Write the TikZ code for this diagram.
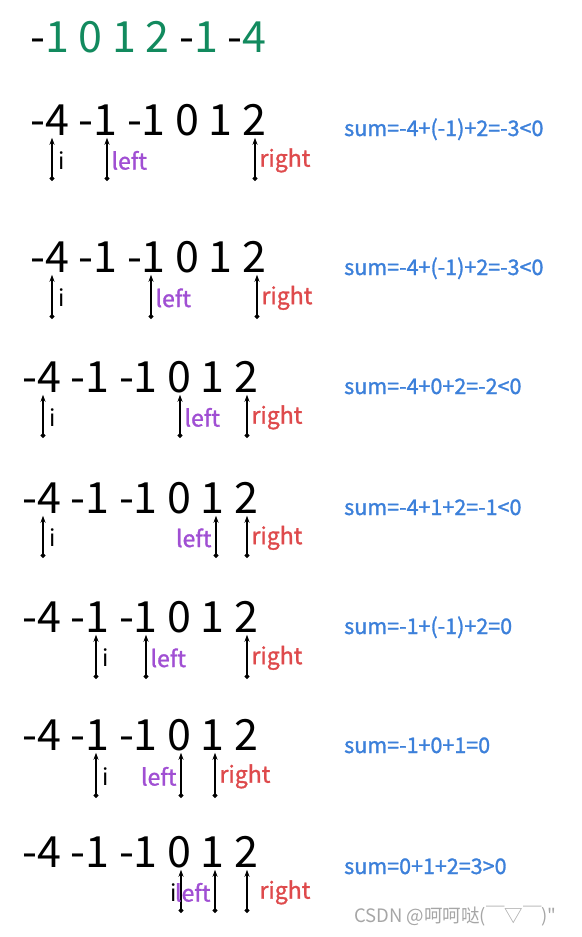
\documentclass[tikz,border=0pt]{standalone}
\usepackage{fontspec}
\setmainfont{Noto Sans CJK SC}
\newfontfamily\medfont[FakeBold=1.3]{Noto Sans CJK SC}
\newfontfamily\markfont[Ligatures=TeXOff]{Noto Sans CJK SC}
\usetikzlibrary{arrows.meta, positioning}
\definecolor{numgreen}{HTML}{128A5E}
\definecolor{leftclr}{HTML}{A04FD3}
\definecolor{rightclr}{HTML}{DE4A4C}
\definecolor{sumclr}{HTML}{3C80DA}
\definecolor{markgray}{HTML}{A6A6A6}
\newcommand{\gd}[1]{{\color{numgreen}#1}}
\tikzset{
  nums/.style={anchor=base west, inner sep=0pt, font=\fontsize{43}{50}\selectfont},
  ptr/.style={{Circle[length=5pt]}-{Stealth[length=7pt, width=5pt]}, line width=1.1pt, shorten >=2pt},
  tag/.style={inner sep=4pt, yshift=-2pt, font=\fontsize{23}{28}\selectfont},
  itag/.style={tag, text=black, inner xsep=6pt},
  ltag/.style={tag, text=leftclr, font=\medfont\fontsize{23}{28}\selectfont},
  rtag/.style={tag, text=rightclr, font=\medfont\fontsize{23}{28}\selectfont},
  sumtxt/.style={anchor=base west, inner sep=0pt, text=sumclr, font=\medfont\fontsize{21.5}{26}\selectfont},
}

\begin{document}
\begin{tikzpicture}[x=1pt, y=-1pt]
\useasboundingbox (0,0) rectangle (581,937);

% --- Input array ---
\node[nums] (input) at (30,52) {-\gd{1} \gd{0} \gd{1} \gd{2} -\gd{1} -\gd{4}};

% --- Row 1 ---
\node[nums] (r1) at (30,135) {-4 -1 -1 0 1 2};
\node[sumtxt] (s1) at (344,136) {sum=-4+(-1)+2=-3<0};
\coordinate (r1i) at (52,181);
\coordinate (r1l) at (107,181);
\coordinate (r1r) at (255,181);
\draw[ptr] (r1i) -- node[itag, right] {i} (r1i |- r1.south);
\draw[ptr] (r1l) -- node[ltag, right] {left} (r1l |- r1.south);
\draw[ptr] (r1r) -- node[rtag, right] {right} (r1r |- r1.south);

% --- Row 2 ---
\node[nums] (r2) at (30,272) {-4 -1 -1 0 1 2};
\node[sumtxt] (s2) at (344,275) {sum=-4+(-1)+2=-3<0};
\coordinate (r2i) at (52,319);
\coordinate (r2l) at (151,319);
\coordinate (r2r) at (257,319);
\draw[ptr] (r2i) -- node[itag, right] {i} (r2i |- r2.south);
\draw[ptr] (r2l) -- node[ltag, right] {left} (r2l |- r2.south);
\draw[ptr] (r2r) -- node[rtag, right] {right} (r2r |- r2.south);

% --- Row 3 ---
\node[nums] (r3) at (22,392) {-4 -1 -1 0 1 2};
\node[sumtxt] (s3) at (344,394) {sum=-4+0+2=-2<0};
\coordinate (r3i) at (43,438);
\coordinate (r3l) at (180,438);
\coordinate (r3r) at (247,438);
\draw[ptr] (r3i) -- node[itag, right] {i} (r3i |- r3.south);
\draw[ptr] (r3l) -- node[ltag, right] {left} (r3l |- r3.south);
\draw[ptr] (r3r) -- node[rtag, right] {right} (r3r |- r3.south);

% --- Row 4 ---
\node[nums] (r4) at (22,513) {-4 -1 -1 0 1 2};
\node[sumtxt] (s4) at (344,515) {sum=-4+1+2=-1<0};
\coordinate (r4i) at (43,558);
\coordinate (r4l) at (216,558);
\coordinate (r4r) at (247,558);
\draw[ptr] (r4i) -- node[itag, right] {i} (r4i |- r4.south);
\draw[ptr] (r4l) -- node[ltag, left] {left} (r4l |- r4.south);
\draw[ptr] (r4r) -- node[rtag, right] {right} (r4r |- r4.south);

% --- Row 5 ---
\node[nums] (r5) at (22,632) {-4 -1 -1 0 1 2};
\node[sumtxt] (s5) at (344,634) {sum=-1+(-1)+2=0};
\coordinate (r5i) at (96,679);
\coordinate (r5l) at (146,679);
\coordinate (r5r) at (247,679);
\draw[ptr] (r5i) -- node[itag, right] {i} (r5i |- r5.south);
\draw[ptr] (r5l) -- node[ltag, right] {left} (r5l |- r5.south);
\draw[ptr] (r5r) -- node[rtag, right] {right} (r5r |- r5.south);

% --- Row 6 ---
\node[nums] (r6) at (22,750) {-4 -1 -1 0 1 2};
\node[sumtxt] (s6) at (344,753) {sum=-1+0+1=0};
\coordinate (r6i) at (96,798);
\coordinate (r6l) at (181,798);
\coordinate (r6r) at (215,798);
\draw[ptr] (r6i) -- node[itag, right] {i} (r6i |- r6.south);
\draw[ptr] (r6l) -- node[ltag, left] {left} (r6l |- r6.south);
\draw[ptr] (r6r) -- node[rtag, right] {right} (r6r |- r6.south);

% --- Row 7 ---
\node[nums] (r7) at (22,867) {-4 -1 -1 0 1 2};
\node[sumtxt] (s7) at (344,874) {sum=0+1+2=3>0};
\coordinate (r7i) at (181,913);
\coordinate (r7l) at (215,913);
\coordinate (r7r) at (247,913);
\draw[ptr] (r7i) -- node[itag, left, inner xsep=4pt] {i} (r7i |- r7.south);
\draw[ptr] (r7l) -- node[ltag, left] {left} (r7l |- r7.south);
\draw[ptr] (r7r) -- node[rtag, right, xshift=8pt] {right} (r7r |- r7.south);

% --- Watermark ---
\node[anchor=west, inner sep=0pt, text=markgray, font=\markfont\fontsize{18.5}{22}\selectfont] (mark) at (354,916) {CSDN @呵呵哒(￣▽￣)"};

\end{tikzpicture}
\end{document}
